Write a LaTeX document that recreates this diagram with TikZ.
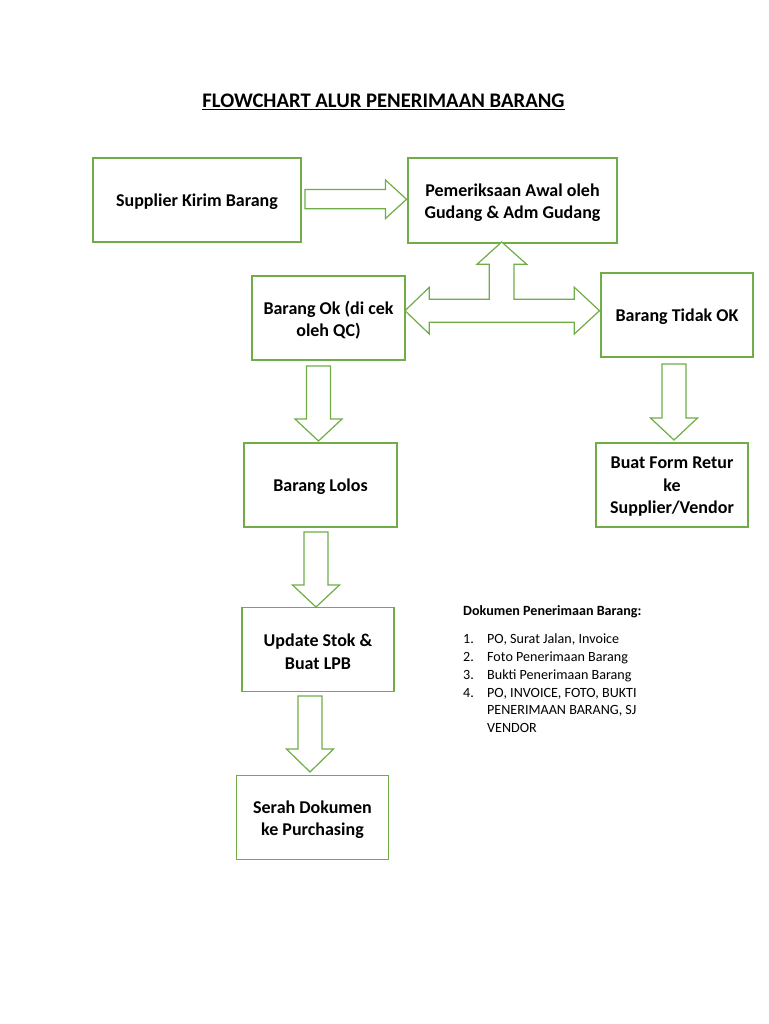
\documentclass[tikz,border=0pt]{standalone}
\usepackage{fontspec}
\setmainfont{Carlito}
\definecolor{grn}{RGB}{112,173,71}
\begin{document}
\begin{tikzpicture}[x=1pt,y=-1pt,
  box/.style={draw=grn,line width=1.5pt,fill=white,inner sep=0pt},
  lbl/.style={inner sep=0pt,align=center,yshift=-2pt,
    font=\fontsize{18}{22.5}\selectfont\bfseries},
  blk/.style={draw=grn,line width=1.2pt,fill=white,line join=miter},
  lst/.style={anchor=base west,inner sep=0pt,font=\fontsize{14.1}{17}\selectfont}]
\useasboundingbox[fill=white] (0,0) rectangle (768,1024);
% title
\node[anchor=base,inner sep=0pt,font=\fontsize{20.7}{25}\selectfont\bfseries] (title) at (383.5,107.5) {\underline{FLOWCHART ALUR PENERIMAAN BARANG}};
% boxes
\node[box,minimum width=208,minimum height=84,label={[lbl]center:Supplier Kirim Barang}] (sup) at (197,200) {};
\node[box,minimum width=209,minimum height=85,label={[lbl]center:{Pemeriksaan Awal oleh\\Gudang \& Adm Gudang}}] (pem) at (512.5,200.5) {};
\node[box,minimum width=153,minimum height=84,label={[lbl]center:{Barang Ok (di cek\\oleh QC)}}] (ok) at (328.5,318) {};
\node[box,minimum width=152,minimum height=84,label={[lbl]center:Barang Tidak OK}] (tok) at (677,315) {};
\node[box,minimum width=152,minimum height=84,label={[lbl]center:{Buat Form Retur\\ke\\Supplier/Vendor}}] (ret) at (672,485) {};
\node[box,minimum width=153,minimum height=84,label={[lbl]center:Barang Lolos}] (lol) at (320.5,485) {};
\node[box,minimum width=152,minimum height=84,label={[lbl]center:{Update Stok \&\\Buat LPB}}] (upd) at (318,649.5) {};
\node[box,minimum width=152,minimum height=84,label={[lbl]center:{Serah Dokumen\\ke Purchasing}}] (ser) at (312.5,817.5) {};
% right block arrow sup -> pem
\draw[blk] (305,189.5) -- (385.5,189.5) -- (385.5,180) -- (406.5,199.3) -- (385.5,218.5) -- (385.5,208.7) -- (305,208.7) -- cycle;
% three-way block arrow: ok <-> tok, up to pem
\draw[blk] (405,310.7) -- (429.3,287.3) -- (429.3,299.3) -- (489.3,299.3) -- (489.3,264.3) -- (477,264.3) -- (501.7,242) -- (526.7,264.3) -- (514,264.3) -- (514,299.3) -- (574.3,299.3) -- (574.3,287.3) -- (599.5,310.7) -- (574.3,334) -- (574.3,322.3) -- (429.3,322.3) -- (429.3,334) -- cycle;
% down block arrows
\newcommand\dnblk[4]{\draw[blk] (#1-12,#2) -- (#1+12,#2) -- (#1+12,#3) -- (#1+23.5,#3) -- (#1,#4) -- (#1-23.5,#3) -- (#1-12,#3) -- cycle;}
\dnblk{318.5}{366}{419}{441}
\dnblk{316}{532}{585}{607}
\dnblk{674}{364}{418}{440}
\dnblk{310}{696}{749}{772}
% document list
\node[lst,font=\fontsize{14.1}{17}\selectfont\bfseries] (dh) at (463,615.5) {Dokumen Penerimaan Barang:};
\node[lst] (n1) at (463,643.5) {1.};
\node[lst] (t1) at (487,643.5) {PO, Surat Jalan, Invoice};
\node[lst] (n2) at (463,661.5) {2.};
\node[lst] (t2) at (487,661.5) {Foto Penerimaan Barang};
\node[lst] (n3) at (463,679.5) {3.};
\node[lst] (t3) at (487,679.5) {Bukti Penerimaan Barang};
\node[lst] (n4) at (463,697) {4.};
\node[lst] (t4) at (487,697) {PO, INVOICE, FOTO, BUKTI};
\node[lst] (t5) at (487,714.5) {PENERIMAAN BARANG, SJ};
\node[lst] (t6) at (487,732) {VENDOR};
\end{tikzpicture}
\end{document}
